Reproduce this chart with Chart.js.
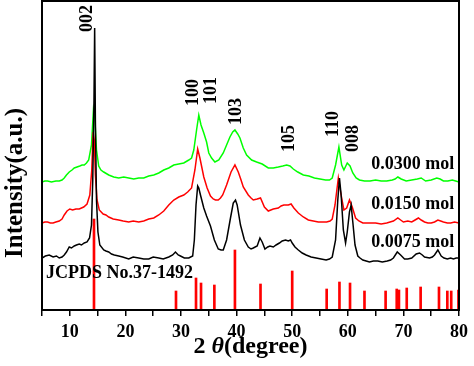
<!DOCTYPE html>
<html><head><meta charset="utf-8">
<script src="https://cdn.jsdelivr.net/npm/chart.js@4/dist/chart.umd.min.js"></script>
<style>html,body{margin:0;padding:0;background:#fff}canvas{display:block}</style>
</head><body>
<canvas id="c" width="474" height="366"></canvas>
<script>
// ---- data (2θ in degrees, intensity in arbitrary units) ----
const s0075_x = [5.0,5.6,6.3,7.0,7.6,8.1,8.6,9.0,9.4,9.9,10.3,10.8,11.2,11.7,12.1,12.6,13.1,13.55,13.9,14.13,14.35,14.47,14.6,14.8,15.06,15.4,16.1,16.5,17.0,17.5,18.0,18.8,19.5,20.6,21.4,22.4,23.3,24.2,25.0,26.0,26.8,27.8,28.5,29.0,29.5,29.9,30.6,31.4,32.1,32.4,32.7,33.0,33.2,33.5,34.1,34.6,35.3,36.0,36.7,37.2,37.6,38.2,38.9,39.4,39.8,40.1,40.7,41.4,42.1,42.6,43.0,43.7,44.2,44.6,45.1,45.6,46.0,46.6,47.1,47.7,48.2,48.8,49.3,49.7,50.0,50.5,51.1,51.8,52.5,53.4,54.3,55.2,56.1,56.7,57.2,57.8,58.2,58.5,58.8,59.2,59.6,59.9,60.3,60.6,60.9,61.3,61.8,62.2,62.7,63.3,63.9,64.6,65.4,66.2,67.1,67.7,68.2,68.9,69.5,70.2,70.8,71.5,72.3,72.9,73.4,73.8,74.7,75.2,75.6,76.2,76.8,77.3,77.9,78.5,79.0,79.5,80.0];
const s0075_y = [52,54,55,53,54,52,53,55,58,63,62,64,65,66,65,67,68,72,85,130,210,282,190,110,78,65,60,59,58,56,55,54,53,51,53,52,51,51,53,52,51,53,55,58,55,54,52,52,54,70,105,124,122,115,102,94,84,70,61,60,60,70,92,107,110,105,85,70,63,61,62,64,72,68,61,63,64,63,65,67,69,70,69,70,67,63,60,57,55,53,52,51,50,51,53,70,110,132,115,80,67,78,98,105,88,65,54,52,50,49,48,49,49,48,49,50,52,58,55,51,51,52,56,57,55,53,52,53,55,60,54,52,51,52,51,52,52];

const s0150_x = [5.0,5.5,6.0,6.5,7.0,7.5,8.1,8.6,9.0,9.5,10.0,10.5,11.1,11.7,12.1,12.5,13.1,13.6,13.95,14.2,14.4,14.6,14.9,15.3,16.0,16.5,17.0,17.8,18.8,19.6,20.6,21.4,22.4,23.3,24.2,25.1,26.0,26.9,27.8,28.7,29.6,30.5,31.2,31.9,32.5,33.0,33.4,34.1,34.7,35.3,35.8,36.2,36.7,37.1,37.5,38.2,39.0,39.7,40.3,40.8,41.2,42.1,42.6,43.0,43.7,44.3,45.0,45.7,46.6,47.5,48.0,48.5,49.3,49.8,50.3,51.1,52.0,52.9,53.8,54.7,55.5,56.2,56.8,57.2,57.7,58.3,58.8,59.3,59.8,60.3,60.8,61.4,62.0,62.7,63.8,65.0,66.0,67.0,67.6,68.2,69.0,69.5,70.0,70.8,71.5,72.1,72.7,73.2,73.8,74.4,75.0,75.6,76.2,76.7,77.2,77.9,78.5,79.2,80.0];
const s0150_y = [87,88,88,87,87,88,89,91,95,99,101,100,101,101,102,103,106,115,140,178,170,135,110,100,96,95,93,91,90,89,88,89,88,89,91,92,95,99,105,110,113,115,118,122,140,161,152,133,122,114,111,110,110,112,115,125,138,145,138,130,123,115,112,110,111,112,103,99,101,102,104,105,105,106,102,97,93,90,89,88,88,88,89,91,105,132,115,100,102,110,103,92,89,87,87,87,86,87,88,89,92,90,88,89,88,90,92,90,88,87,87,88,90,89,88,87,87,88,87];

const s0300_x = [5.0,5.5,6.0,6.7,7.5,8.1,8.6,9.0,9.4,9.9,10.4,10.8,11.3,11.8,12.2,12.6,13.0,13.4,13.9,14.25,14.5,14.8,15.2,15.6,16.1,17.0,17.9,18.8,19.7,20.6,21.5,22.4,23.3,24.2,25.1,26.0,26.9,27.8,28.7,29.6,30.5,31.4,31.9,32.3,32.8,33.2,33.6,34.1,34.6,35.0,35.5,36.1,36.8,37.6,38.2,38.8,39.3,39.7,40.2,40.6,41.2,41.8,42.7,43.6,44.6,45.7,46.6,47.5,48.3,49.0,49.6,50.2,51.0,52.0,53.0,54.0,55.0,56.0,56.7,57.2,57.8,58.4,58.9,59.3,59.9,60.4,60.9,61.5,62.1,63.0,64.0,65.0,66.0,67.0,68.0,68.5,69.0,69.6,70.5,71.5,72.5,73.2,74.0,75.0,76.0,76.6,77.2,78.0,78.8,79.4,80.0];
const s0300_y = [128,129,129,128,129,129,130,132,135,138,140,142,143,144,145,145,147,150,165,200,192,160,144,140,138,135,133,132,133,132,131,132,132,134,135,137,140,142,145,146,147,150,152,160,180,195,185,177,168,157,152,148,150,157,165,173,178,180,176,172,162,155,150,148,146,142,142,143,144,145,144,141,138,135,134,132,131,130,130,132,145,163,145,140,147,144,137,132,130,129,129,130,129,129,130,131,133,131,129,130,131,132,129,130,132,131,129,129,130,129,128];

// JCPDS No.37-1492 reference lines
const jcpds_x = [14.35,29.1,32.7,33.6,36.0,39.7,44.3,50.0,56.2,58.5,60.4,63.0,66.8,68.8,69.2,70.6,73.1,76.4,77.9,78.6,79.9];
const jcpds_y = [91,19,32,27,25,60,26,39,21,28,27,19,19,21,20,22,23,23,19,19,20];

const seriesNames = ['0.0075 mol','0.0150 mol','0.0300 mol'];
const refName = 'JCPDS No.37-1492';
const peakNames = ['002','100','101','103','105','110','008'];
const peakLabelX = [12.92,32.07,35.29,39.77,49.26,57.31,60.89];
const peakLabelY = [278,204,206,185,158,173,158];
const seriesLabelX = [79.15,79.15,79.15];
const seriesLabelY = [68,106,146];
const refLabelX = 5.7, refLabelY = 36.5;
const xTicks = [10,20,30,40,50,60,70,80];
const xTitle = ['2', ' ', 'θ', '(degree)'];
const yTitle = 'Intensity(a.u.)';

const zip = (xs, ys) => xs.map((x, i) => ({x, y: ys[i]}));
const FONT = "'Liberation Serif','Times New Roman',serif";

const textPlugin = {
  id: 'texts',
  afterDraw(chart) {
    const {ctx, chartArea: a, scales: {x, y}} = chart;
    ctx.save();
    // frame
    ctx.strokeStyle = '#000'; ctx.lineWidth = 2;
    ctx.strokeRect(a.left, a.top, a.right - a.left, a.bottom - a.top);
    ctx.fillStyle = '#000';
    // peak labels (rotated)
    ctx.font = 'bold 18px ' + FONT;
    ctx.textAlign = 'left'; ctx.textBaseline = 'middle';
    peakNames.forEach((t, i) => {
      ctx.save();
      ctx.translate(x.getPixelForValue(peakLabelX[i]), y.getPixelForValue(peakLabelY[i]));
      ctx.rotate(-Math.PI / 2);
      ctx.fillText(t, 0, 1);
      ctx.restore();
    });
    // series labels
    ctx.textAlign = 'right';
    seriesNames.forEach((t, i) => {
      ctx.fillText(t, x.getPixelForValue(seriesLabelX[i]), y.getPixelForValue(seriesLabelY[i]));
    });
    // reference label
    ctx.textAlign = 'left';
    ctx.fillText(refName, x.getPixelForValue(refLabelX), y.getPixelForValue(refLabelY));
    // y title
    ctx.save();
    ctx.font = 'bold 25px ' + FONT;
    ctx.textAlign = 'center'; ctx.textBaseline = 'middle';
    ctx.translate(16, 183);
    ctx.rotate(-Math.PI / 2);
    ctx.fillText(yTitle, 0, 0);
    ctx.restore();
    // x title: 2θ(degree)
    const fonts = ['bold 24px ', 'bold 24px ', 'italic bold 24px ', 'bold 24px '];
    let w = 0;
    xTitle.forEach((p, i) => { ctx.font = fonts[i] + FONT; w += ctx.measureText(p).width; });
    let cx = (a.left + a.right) / 2 - w / 2;
    ctx.textAlign = 'left'; ctx.textBaseline = 'alphabetic';
    xTitle.forEach((p, i) => { ctx.font = fonts[i] + FONT; ctx.fillText(p, cx, 353); cx += ctx.measureText(p).width; });
    ctx.restore();
  }
};

new Chart(document.getElementById('c'), {
  data: {
    datasets: [
      {type: 'line', label: seriesNames[0], data: zip(s0075_x, s0075_y), borderColor: '#000000', borderWidth: 1.5, pointRadius: 0, tension: 0},
      {type: 'line', label: seriesNames[1], data: zip(s0150_x, s0150_y), borderColor: '#ff0000', borderWidth: 1.5, pointRadius: 0, tension: 0},
      {type: 'line', label: seriesNames[2], data: zip(s0300_x, s0300_y), borderColor: '#00ff00', borderWidth: 1.5, pointRadius: 0, tension: 0},
      {type: 'bar', label: refName, data: zip(jcpds_x, jcpds_y), backgroundColor: '#ff0000', barThickness: 2, order: 5}
    ]
  },
  options: {
    responsive: false, animation: false, devicePixelRatio: 1,
    layout: {padding: {top: 1, right: 12, left: 0, bottom: 0}},
    plugins: {legend: {display: false}, tooltip: {enabled: false}},
    scales: {
      x: {
        type: 'linear', min: 5, max: 80, offset: false,
        afterFit: s => { s.height = 56; },
        ticks: {stepSize: 5, autoSkip: false, maxRotation: 0, color: '#000', padding: 6,
          font: {family: FONT, size: 18, weight: 'bold'},
          callback: v => xTicks.includes(v) ? String(v) : ''},
        grid: {display: true, drawOnChartArea: false, drawTicks: true, tickLength: 6, color: '#000', lineWidth: 1.5, offset: false},
        border: {display: true, color: '#000', width: 2}
      },
      y: {
        type: 'linear', min: 0, max: 309,
        afterFit: s => { s.width = 42; },
        ticks: {display: false},
        grid: {display: false},
        border: {display: true, color: '#000', width: 2}
      }
    }
  },
  plugins: [textPlugin]
});
</script>
</body></html>
